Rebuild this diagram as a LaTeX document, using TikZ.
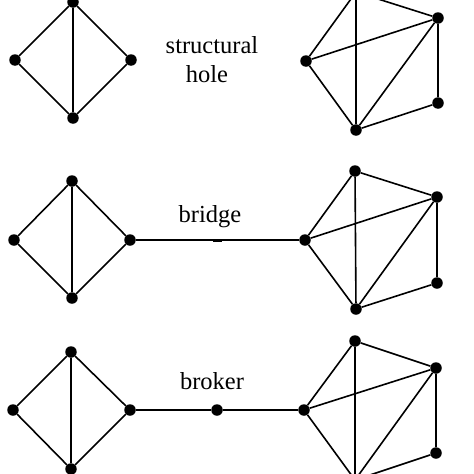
\documentclass[tikz,border=0pt]{standalone}
\usepackage{fontspec}
\setmainfont{Liberation Serif}
\begin{document}
\begin{tikzpicture}[x=1pt,y=-1pt,
  dot/.style={circle,fill=black,inner sep=0pt,minimum size=11.5pt},
  edge/.style={line width=1.6pt,black},
  lbl/.style={font=\fontsize{24.5}{29}\selectfont,inner sep=0pt,anchor=base}]
\useasboundingbox (0,0) rectangle (474,474);
\clip (0,0) rectangle (474,474);
% ---------- top panel ----------
\node[dot] (a1) at (73,2) {};
\node[dot] (a2) at (15,60) {};
\node[dot] (a3) at (131,60) {};
\node[dot] (a4) at (73,118) {};
\draw[edge] (a1)--(a2) (a1)--(a3) (a2)--(a4) (a3)--(a4) (a1)--(a4);
\node[dot] (b1) at (356,-8) {};
\node[dot] (b2) at (306,61) {};
\node[dot] (b3) at (438,18) {};
\node[dot] (b4) at (438,103) {};
\node[dot] (b5) at (356,130) {};
\draw[edge] (b1)--(b2) (b1)--(b5) (b1)--(b3) (b2)--(b3) (b2)--(b5) (b5)--(b3) (b3)--(b4) (b4)--(b5);
\node[lbl] (t1) at (212,53) {structural};
\node[lbl] (t2) at (207,82) {hole};
% ---------- middle panel ----------
\node[dot] (c1) at (72,181) {};
\node[dot] (c2) at (14,240) {};
\node[dot] (c3) at (130,240) {};
\node[dot] (c4) at (72,298) {};
\draw[edge] (c1)--(c2) (c1)--(c3) (c2)--(c4) (c3)--(c4) (c1)--(c4);
\node[dot] (d1) at (355,171) {};
\node[dot] (d2) at (305,240) {};
\node[dot] (d3) at (437,197) {};
\node[dot] (d4) at (437,283) {};
\node[dot] (d5) at (356,309) {};
\draw[edge] (d1)--(d2) (d1)--(d5) (d1)--(d3) (d2)--(d3) (d2)--(d5) (d5)--(d3) (d3)--(d4) (d4)--(d5);
\draw[edge] (c3)--(d2);
\coordinate (m1) at (213,240);
\coordinate (m2) at (222,240);
\draw[line width=3pt] (m1)--(m2);
\node[lbl] (t3) at (210,222) {bridge};
% ---------- bottom panel ----------
\node[dot] (e1) at (71,352) {};
\node[dot] (e2) at (13,410) {};
\node[dot] (e3) at (130,410) {};
\node[dot] (e4) at (71,469) {};
\draw[edge] (e1)--(e2) (e1)--(e3) (e2)--(e4) (e3)--(e4) (e1)--(e4);
\node[dot] (f1) at (355,341) {};
\node[dot] (f2) at (304,410) {};
\node[dot] (f3) at (436,368) {};
\node[dot] (f4) at (436,453) {};
\node[dot] (f5) at (355,480) {};
\draw[edge] (f1)--(f2) (f1)--(f5) (f1)--(f3) (f2)--(f3) (f2)--(f5) (f5)--(f3) (f3)--(f4) (f4)--(f5);
\node[dot] (g) at (217,410) {};
\draw[edge] (e3)--(g) (g)--(f2);
\node[lbl] (t4) at (212,389) {broker};
\end{tikzpicture}
\end{document}
